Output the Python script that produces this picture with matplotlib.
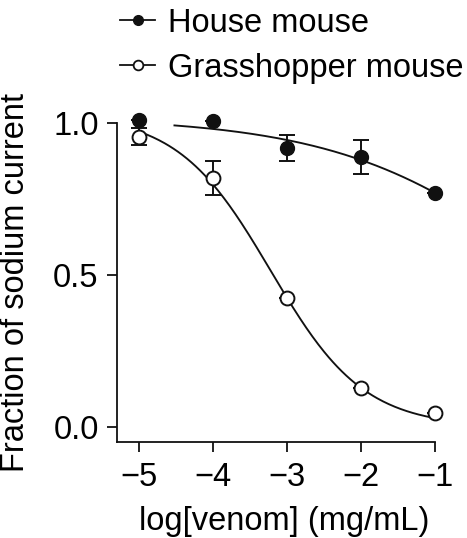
import numpy as np
import matplotlib
matplotlib.use('Agg')
import matplotlib.pyplot as plt

plt.rcParams['font.family'] = ['Liberation Sans', 'DejaVu Sans']

# measured points
log_venom = [-5, -4, -3, -2, -1]
house = [1.011, 1.008, 0.918, 0.890, 0.771]
house_err = [0.0, 0.0, 0.044, 0.056, 0.0]
grass = [0.956, 0.819, 0.425, 0.130, 0.047]
grass_err = [0.029, 0.056, 0.0, 0.0, 0.0]

# Hill fit parameters (top, bottom, logIC50, slope)
house_fit = (1.02, 0.0, 0.615, 0.304)
grass_fit = (1.03, 0.0, -3.22, 0.69)
house_range = (-4.52, -1.0)
grass_range = (-4.97, -1.0)


def hill(x, top, bottom, c, h):
    return bottom + (top - bottom) / (1 + 10 ** ((x - c) * h))


fig = plt.figure(figsize=(4.67, 5.38), dpi=100)
ax = fig.add_axes([0.25, 0.178, 0.681, 0.593])

xs = np.linspace(*house_range, 200)
ax.plot(xs, hill(xs, *house_fit), color='#111111', lw=1.35, clip_on=False)
xs = np.linspace(*grass_range, 200)
ax.plot(xs, hill(xs, *grass_fit), color='#111111', lw=1.35, clip_on=False)

ax.errorbar(log_venom, grass, yerr=grass_err, fmt='none', ecolor='#111111',
            elinewidth=1.4, capsize=5.5, capthick=1.4, clip_on=False, zorder=3)
ax.errorbar(log_venom, house, yerr=house_err, fmt='none', ecolor='#111111',
            elinewidth=1.4, capsize=5.5, capthick=1.4, clip_on=False, zorder=3)
ax.plot(log_venom, grass, 'o', ms=10, mfc='white', mec='#111111', mew=1.4,
        clip_on=False, zorder=4)
ax.plot(log_venom, house, 'o', ms=10, mfc='#111111', mec='#111111',
        clip_on=False, zorder=5)

ax.set_xlim(-5.3, -1.0)
ax.set_ylim(-0.05, 1.0)
ax.set_xticks(log_venom)
ax.set_xticklabels(['\u2212%d' % abs(v) for v in log_venom])
ax.set_yticks([0.0, 0.5, 1.0])
ax.set_yticklabels(['0.0', '0.5', '1.0'])
for s in ['top', 'right']:
    ax.spines[s].set_visible(False)
for s in ['left', 'bottom']:
    ax.spines[s].set_linewidth(1.3)
    ax.spines[s].set_color('#111111')
ax.tick_params(direction='out', length=7, width=1.3, color='#111111',
               labelsize=23.5, pad=6)
ax.tick_params(axis='x', pad=7.5)
ax.set_xlabel('log[venom] (mg/mL)', fontsize=23.5, labelpad=9)
ax.xaxis.set_label_coords(0.525, -0.20)
ax.set_ylabel('Fraction of sodium current', fontsize=23.5, labelpad=16)

# legend
h1, = ax.plot([], [], '-o', color='#111111', ms=7, lw=1.3)
h2, = ax.plot([], [], '-o', color='#111111', mfc='white', ms=7, lw=1.3, mew=1.3)
fig.legend([h1, h2], ['House mouse', 'Grasshopper mouse'], loc='upper left',
           bbox_to_anchor=(0.195, 1.04), frameon=False, fontsize=23.5,
           handlelength=1.05, handletextpad=0.4, labelspacing=0.42)

fig.savefig('out.png', dpi=100)
